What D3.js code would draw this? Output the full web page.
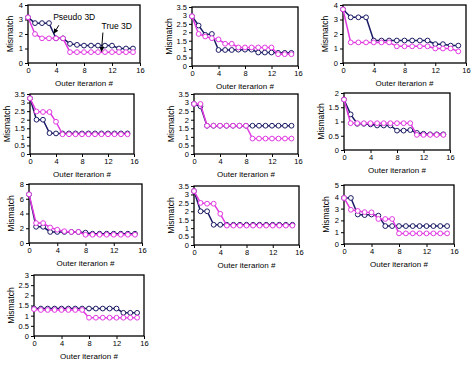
<!DOCTYPE html>
<html><head><meta charset="utf-8">
<script src="https://cdn.jsdelivr.net/npm/d3@7"></script>
<style>
html,body{margin:0;padding:0;background:#fff;}
svg text{font-family:"Liberation Sans",Arial,sans-serif;fill:#000;}
</style></head>
<body><svg id="c" width="474" height="367"></svg>
<script>
const iterations = d3.range(0, 16);
const xTicks = [0, 4, 8, 12, 16];
const seriesNames = ["Pseudo 3D", "True 3D"];
const xTitle = "Outer iterarion #";
const yTitle = "Mismatch";

const p1Pseudo = [3.15,2.75,2.75,2.75,1.7,1.7,1.32,1.25,1.2,1.2,1.2,1.2,1.2,1.0,1.0,1.0];
const p1True   = [3.15,2.0,1.7,1.7,1.7,1.7,0.75,0.75,0.75,0.75,0.75,0.75,0.75,0.75,0.75,0.75];
const p2Pseudo = [2.95,2.4,1.85,1.9,0.95,0.95,0.95,0.97,0.97,0.97,0.8,0.8,0.8,0.78,0.78,0.78];
const p2True   = [2.95,1.9,1.75,1.65,1.58,1.32,1.32,1.1,1.1,1.1,1.1,1.1,1.1,0.7,0.7,0.7];
const p3Pseudo = [3.7,3.15,3.15,3.15,1.55,1.55,1.55,1.55,1.55,1.55,1.55,1.55,1.3,1.3,1.2,1.2];
const p3True   = [3.7,1.42,1.42,1.42,1.42,1.42,1.42,1.15,1.15,1.15,1.15,1.15,1.0,1.0,1.0,0.8];
const p4Pseudo = [3.25,2.0,2.0,1.22,1.2,1.2,1.2,1.2,1.2,1.2,1.2,1.2,1.2,1.2,1.2,1.2];
const p4True   = [3.25,2.48,2.45,2.45,1.88,1.15,1.15,1.15,1.15,1.15,1.15,1.15,1.15,1.15,1.15,1.15];
const p5Pseudo = [2.92,2.78,1.65,1.65,1.65,1.65,1.65,1.65,1.65,1.65,1.65,1.65,1.65,1.65,1.65,1.65];
const p5True   = [2.92,2.92,1.65,1.65,1.65,1.65,1.65,1.65,1.65,0.9,0.9,0.9,0.9,0.9,0.9,0.9];
const p6Pseudo = [1.77,1.25,0.92,0.92,0.9,0.86,0.86,0.86,0.68,0.68,0.7,0.6,0.57,0.55,0.55,0.55];
const p6True   = [1.77,0.94,0.94,0.94,0.94,0.94,0.94,0.94,0.94,0.94,0.94,0.53,0.53,0.53,0.53,0.53];
const p7Pseudo = [6.6,2.2,2.2,1.5,1.5,1.5,1.5,1.5,1.4,1.26,1.26,1.26,1.26,1.26,1.26,1.26];
const p7True   = [6.6,2.7,2.7,2.1,1.8,1.6,1.5,1.5,1.12,1.12,1.12,1.12,1.12,1.12,1.12,1.12];
const p8Pseudo = [3.2,2.0,2.0,1.2,1.2,1.2,1.2,1.2,1.2,1.2,1.2,1.2,1.2,1.2,1.2,1.2];
const p8True   = [3.2,2.5,2.45,2.45,1.85,1.15,1.15,1.15,1.15,1.15,1.15,1.15,1.15,1.15,1.15,1.15];
const p9Pseudo = [3.9,3.9,2.5,2.45,2.5,2.4,1.52,1.52,1.52,1.52,1.52,1.52,1.52,1.52,1.52,1.52];
const p9True   = [3.9,2.9,2.8,2.7,2.68,2.12,2.12,2.12,0.9,0.9,0.9,0.9,0.9,0.9,0.9,0.9];
const p10Pseudo = [1.35,1.35,1.35,1.35,1.35,1.35,1.35,1.35,1.35,1.35,1.35,1.35,1.35,1.14,1.14,1.14];
const p10True   = [1.32,1.28,1.28,1.28,1.28,1.28,1.28,1.28,0.9,0.9,0.9,0.9,0.9,0.9,0.9,0.9];

const yMax = [4, 3.5, 4, 3.5, 3.5, 2, 8, 3.5, 5, 3];
const yStep = [1, 0.5, 1, 0.5, 0.5, 0.5, 2, 0.5, 1, 0.5];

const data = [
  [p1Pseudo,p1True],[p2Pseudo,p2True],[p3Pseudo,p3True],[p4Pseudo,p4True],[p5Pseudo,p5True],
  [p6Pseudo,p6True],[p7Pseudo,p7True],[p8Pseudo,p8True],[p9Pseudo,p9True],[p10Pseudo,p10True]
];

// layout: plot-area boxes [left, right, top, bottom]
const boxes = [
  [28,140,5,63],[192,298,7,66],[343,466,5,63],
  [30,134,94,154],[194,298,94,154],[344,450,93,150],
  [29,142,184,243],[194,299,186,245],[344,454,185,244],
  [34,144,275,336]
];
const colors = ["#1b1b66", "#e23ae2"];

const svg = d3.select("#c");

data.forEach((series, i) => {
  const [l, r, t, b] = boxes[i];
  const x = d3.scaleLinear().domain([0, 16]).range([l, r]);
  const y = d3.scaleLinear().domain([0, yMax[i]]).range([b, t]);
  const g = svg.append("g");
  const yt = d3.range(0, yMax[i] + 1e-9, yStep[i]);
  const decimal = yStep[i] < 1;

  const ax = g.append("g").attr("transform", `translate(0,${b})`)
    .call(d3.axisBottom(x).tickValues(xTicks).tickSize(3).tickPadding(2).tickFormat(d3.format("d")));
  const ay = g.append("g").attr("transform", `translate(${l},0)`)
    .call(d3.axisLeft(y).tickValues(yt).tickSize(3).tickPadding(2).tickFormat(d => String(+d.toFixed(2))));
  [ax, ay].forEach(a => {
    a.select(".domain").remove();
    a.selectAll("line").attr("stroke", "#000");
    a.selectAll("text").style("font-size", "7.5px").style("font-family", "Liberation Sans, Arial, sans-serif");
  });

  g.append("rect").attr("x", l).attr("y", t).attr("width", r - l).attr("height", b - t)
    .attr("fill", "none").attr("stroke", "#000").attr("stroke-width", 1.3);

  g.append("text").attr("x", (l + r) / 2).attr("y", b + 23).attr("text-anchor", "middle")
    .style("font-size", "8px").text(xTitle);
  g.append("text").attr("transform", `translate(${l - (decimal ? 20 : 15)},${(t + b) / 2}) rotate(-90)`)
    .attr("text-anchor", "middle").style("font-size", "8.5px").text(yTitle);

  series.forEach((vals, s) => {
    const line = d3.line().x((d, k) => x(iterations[k])).y(d => y(d));
    g.append("path").datum(vals).attr("d", line).attr("fill", "none")
      .attr("stroke", colors[s]).attr("stroke-width", 1.5);
    g.selectAll(null).data(vals).enter().append("circle")
      .attr("cx", (d, k) => x(iterations[k])).attr("cy", d => y(d)).attr("r", 2.4)
      .attr("fill", "#fff").attr("stroke", colors[s]).attr("stroke-width", 1);
  });

  if (i === 0) {
    svg.append("defs").append("marker").attr("id", "ah").attr("viewBox", "0 0 10 10")
      .attr("refX", 9).attr("refY", 5).attr("markerWidth", 5).attr("markerHeight", 5)
      .attr("orient", "auto").append("path").attr("d", "M0,0L10,5L0,10z").attr("fill", "#000");
    g.append("text").attr("x", x(3.6)).attr("y", y(2.95)).style("font-size", "8.5px").text(seriesNames[0]);
    g.append("line").attr("x1", x(4.4)).attr("y1", y(2.6)).attr("x2", x(3.7)).attr("y2", y(2.05))
      .attr("stroke", "#000").attr("stroke-width", 1).attr("marker-end", "url(#ah)");
    g.append("text").attr("x", x(10.5)).attr("y", y(2.35)).style("font-size", "8.5px").text(seriesNames[1]);
    g.append("line").attr("x1", x(10.7)).attr("y1", y(2.1)).attr("x2", x(10.5)).attr("y2", y(0.8))
      .attr("stroke", "#000").attr("stroke-width", 1).attr("marker-end", "url(#ah)");
  }
});
</script></body></html>
